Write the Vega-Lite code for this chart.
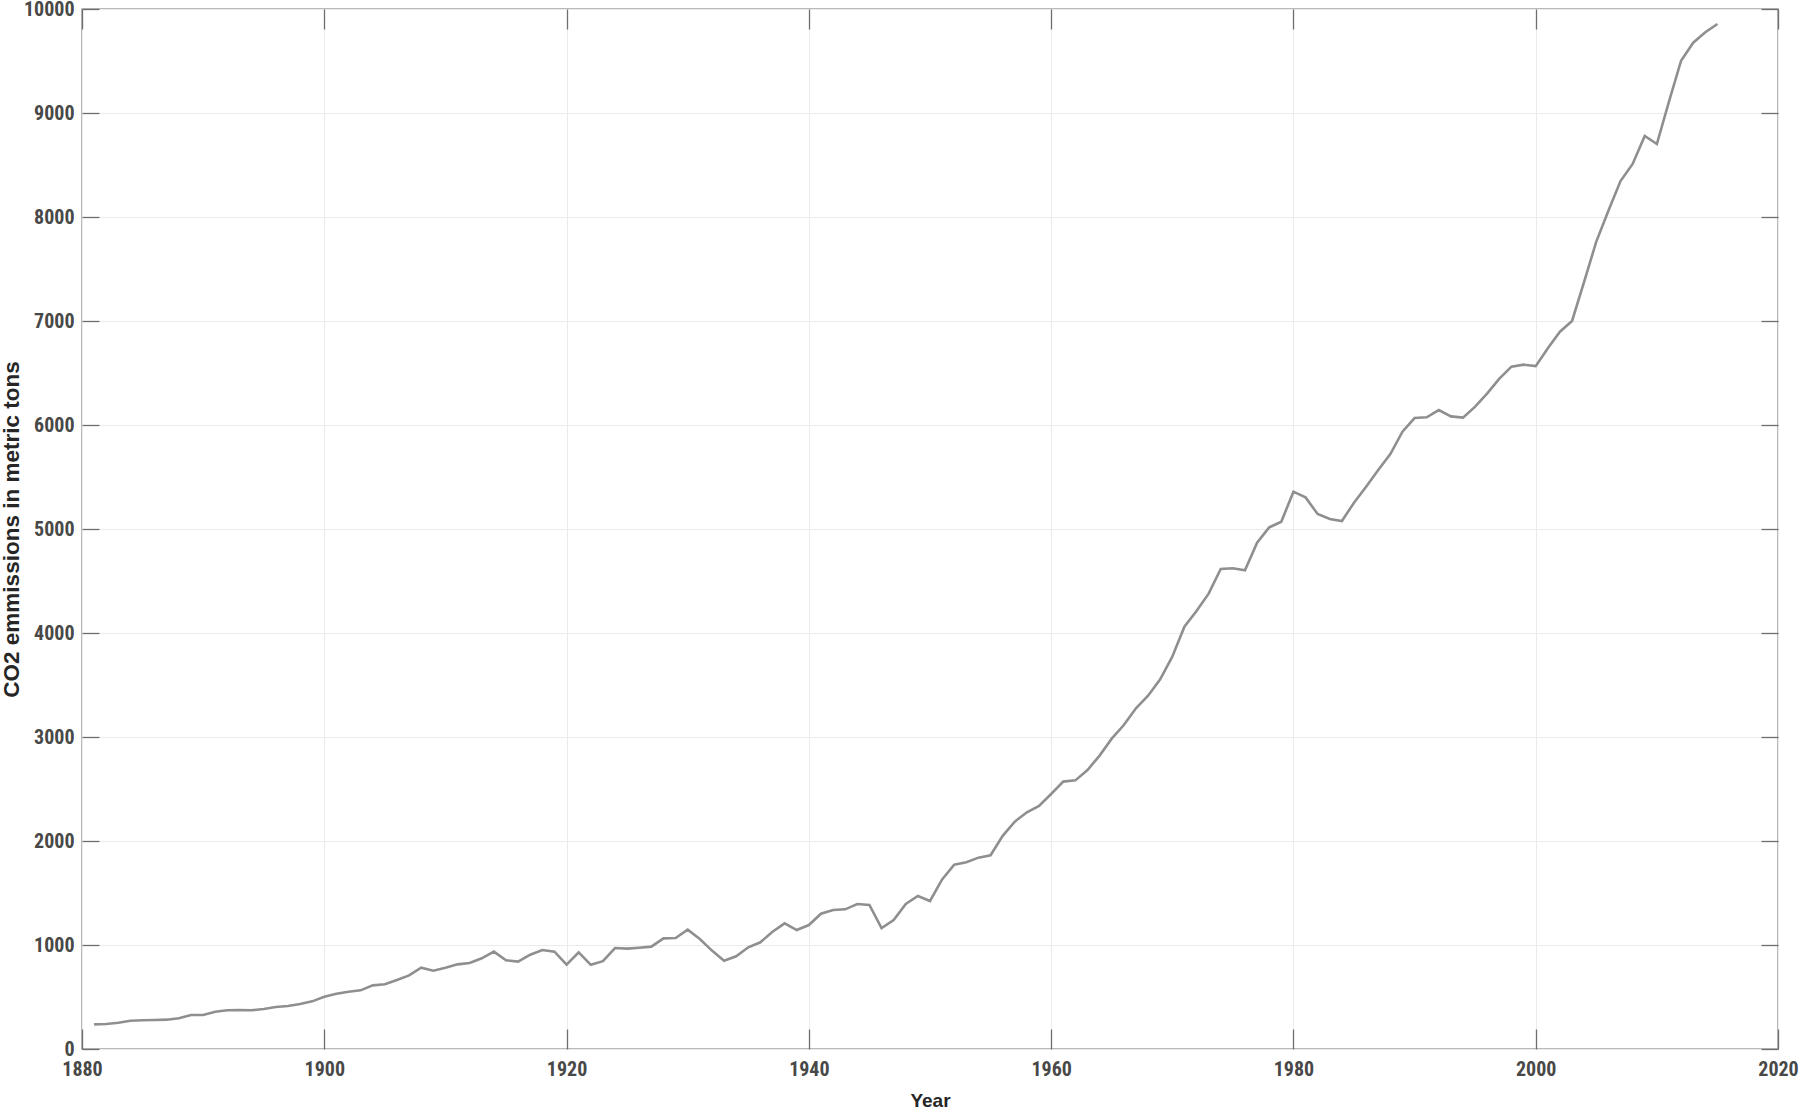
{
  "$schema": "https://vega.github.io/schema/vega-lite/v6.json",
  "width": 1696,
  "height": 1040,
  "autosize": {"type": "none"},
  "padding": {"left": 82, "top": 9, "right": 22, "bottom": 61},
  "background": "white",
  "config": {
    "view": {"stroke": "#a3a3a3", "strokeWidth": 1.5},
    "axis": {
      "labelFont": "Liberation Sans Narrow, Arial Narrow, Roboto Condensed, Liberation Sans",
      "labelFontWeight": "bold",
      "labelFontSize": 20,
      "labelColor": "#484848",
      "titleFont": "Liberation Sans",
      "titleFontWeight": "bold",
      "titleColor": "#262626",
      "domain": false,
      "gridColor": "#ebebeb",
      "gridWidth": 1,
      "tickColor": "#6e6e6e",
      "tickWidth": 1.3
    }
  },
  "data": {
    "values": [
      {"year": 1881, "co2": 237}, {"year": 1882, "co2": 240}, {"year": 1883, "co2": 253},
      {"year": 1884, "co2": 272}, {"year": 1885, "co2": 276}, {"year": 1886, "co2": 279},
      {"year": 1887, "co2": 282}, {"year": 1888, "co2": 295}, {"year": 1889, "co2": 327},
      {"year": 1890, "co2": 327}, {"year": 1891, "co2": 359}, {"year": 1892, "co2": 372},
      {"year": 1893, "co2": 375}, {"year": 1894, "co2": 372}, {"year": 1895, "co2": 385},
      {"year": 1896, "co2": 404}, {"year": 1897, "co2": 413}, {"year": 1898, "co2": 433},
      {"year": 1899, "co2": 458}, {"year": 1900, "co2": 503}, {"year": 1901, "co2": 532},
      {"year": 1902, "co2": 551}, {"year": 1903, "co2": 564}, {"year": 1904, "co2": 612},
      {"year": 1905, "co2": 622}, {"year": 1906, "co2": 663}, {"year": 1907, "co2": 708},
      {"year": 1908, "co2": 782}, {"year": 1909, "co2": 753}, {"year": 1910, "co2": 782},
      {"year": 1911, "co2": 814}, {"year": 1912, "co2": 827}, {"year": 1913, "co2": 872},
      {"year": 1914, "co2": 936}, {"year": 1915, "co2": 853}, {"year": 1916, "co2": 840},
      {"year": 1917, "co2": 907}, {"year": 1918, "co2": 952}, {"year": 1919, "co2": 936},
      {"year": 1920, "co2": 811}, {"year": 1921, "co2": 930}, {"year": 1922, "co2": 809},
      {"year": 1923, "co2": 845}, {"year": 1924, "co2": 971}, {"year": 1925, "co2": 965},
      {"year": 1926, "co2": 974}, {"year": 1927, "co2": 984}, {"year": 1928, "co2": 1064},
      {"year": 1929, "co2": 1067}, {"year": 1930, "co2": 1147}, {"year": 1931, "co2": 1058},
      {"year": 1932, "co2": 946}, {"year": 1933, "co2": 849}, {"year": 1934, "co2": 891},
      {"year": 1935, "co2": 978}, {"year": 1936, "co2": 1026}, {"year": 1937, "co2": 1128},
      {"year": 1938, "co2": 1208}, {"year": 1939, "co2": 1144}, {"year": 1940, "co2": 1192},
      {"year": 1941, "co2": 1301}, {"year": 1942, "co2": 1337}, {"year": 1943, "co2": 1343},
      {"year": 1944, "co2": 1394}, {"year": 1945, "co2": 1385}, {"year": 1946, "co2": 1163},
      {"year": 1947, "co2": 1240}, {"year": 1948, "co2": 1394}, {"year": 1949, "co2": 1471},
      {"year": 1950, "co2": 1423}, {"year": 1951, "co2": 1631}, {"year": 1952, "co2": 1772},
      {"year": 1953, "co2": 1795}, {"year": 1954, "co2": 1840}, {"year": 1955, "co2": 1863},
      {"year": 1956, "co2": 2050}, {"year": 1957, "co2": 2186}, {"year": 1958, "co2": 2276},
      {"year": 1959, "co2": 2337}, {"year": 1960, "co2": 2452}, {"year": 1961, "co2": 2571},
      {"year": 1962, "co2": 2583}, {"year": 1963, "co2": 2683}, {"year": 1964, "co2": 2821},
      {"year": 1965, "co2": 2984}, {"year": 1966, "co2": 3115}, {"year": 1967, "co2": 3276},
      {"year": 1968, "co2": 3397}, {"year": 1969, "co2": 3554}, {"year": 1970, "co2": 3772},
      {"year": 1971, "co2": 4061}, {"year": 1972, "co2": 4212}, {"year": 1973, "co2": 4378},
      {"year": 1974, "co2": 4615}, {"year": 1975, "co2": 4622}, {"year": 1976, "co2": 4603},
      {"year": 1977, "co2": 4869}, {"year": 1978, "co2": 5016}, {"year": 1979, "co2": 5070},
      {"year": 1980, "co2": 5359}, {"year": 1981, "co2": 5304}, {"year": 1982, "co2": 5144},
      {"year": 1983, "co2": 5096}, {"year": 1984, "co2": 5077}, {"year": 1985, "co2": 5253},
      {"year": 1986, "co2": 5407}, {"year": 1987, "co2": 5567}, {"year": 1988, "co2": 5721},
      {"year": 1989, "co2": 5936}, {"year": 1990, "co2": 6067}, {"year": 1991, "co2": 6074},
      {"year": 1992, "co2": 6144}, {"year": 1993, "co2": 6083}, {"year": 1994, "co2": 6071},
      {"year": 1995, "co2": 6176}, {"year": 1996, "co2": 6304}, {"year": 1997, "co2": 6446},
      {"year": 1998, "co2": 6561}, {"year": 1999, "co2": 6580}, {"year": 2000, "co2": 6566},
      {"year": 2001, "co2": 6737}, {"year": 2002, "co2": 6897}, {"year": 2003, "co2": 7000},
      {"year": 2004, "co2": 7378}, {"year": 2005, "co2": 7763}, {"year": 2006, "co2": 8061},
      {"year": 2007, "co2": 8346}, {"year": 2008, "co2": 8510}, {"year": 2009, "co2": 8779},
      {"year": 2010, "co2": 8702}, {"year": 2011, "co2": 9109}, {"year": 2012, "co2": 9503},
      {"year": 2013, "co2": 9676}, {"year": 2014, "co2": 9776}, {"year": 2015, "co2": 9856}
    ]
  },
  "layer": [
    {
      "mark": {"type": "line", "color": "#8f8f8f", "strokeWidth": 2.6, "clip": true},
      "encoding": {
        "x": {
          "field": "year", "type": "quantitative",
          "scale": {"domain": [1880, 2020], "nice": false, "zero": false},
          "axis": {
            "orient": "bottom", "title": "Year", "titleFontSize": 19,
            "values": [1880, 1900, 1920, 1940, 1960, 1980, 2000, 2020],
            "format": "d", "tickSize": -20, "labelPadding": 30,
            "labelBaseline": "top", "labelFlush": false, "labelOverlap": false,
            "titleX": 848, "titleY": 51, "titleBaseline": "middle", "titleAnchor": null
          }
        },
        "y": {
          "field": "co2", "type": "quantitative",
          "scale": {"domain": [0, 10000], "nice": false},
          "axis": {
            "orient": "left", "title": "CO2 emmissions in metric tons", "titleFontSize": 22.5,
            "values": [0, 1000, 2000, 3000, 4000, 5000, 6000, 7000, 8000, 9000, 10000],
            "format": "d", "tickSize": -17, "labelPadding": 25,
            "labelFlush": false, "labelOverlap": false,
            "titleX": -71, "titleY": 520, "titleAngle": -90, "titleBaseline": "middle", "titleAlign": "center"
          }
        }
      }
    },
    {
      "mark": {"type": "line", "opacity": 0},
      "encoding": {
        "x": {
          "field": "year", "type": "quantitative",
          "axis": {
            "orient": "top", "title": null, "labels": false, "grid": false,
            "values": [1880, 1900, 1920, 1940, 1960, 1980, 2000, 2020],
            "tickSize": -20
          }
        },
        "y": {
          "field": "co2", "type": "quantitative",
          "axis": {
            "orient": "right", "title": null, "labels": false, "grid": false,
            "values": [0, 1000, 2000, 3000, 4000, 5000, 6000, 7000, 8000, 9000, 10000],
            "tickSize": -17
          }
        }
      }
    }
  ],
  "resolve": {"axis": {"x": "independent", "y": "independent"}}
}
